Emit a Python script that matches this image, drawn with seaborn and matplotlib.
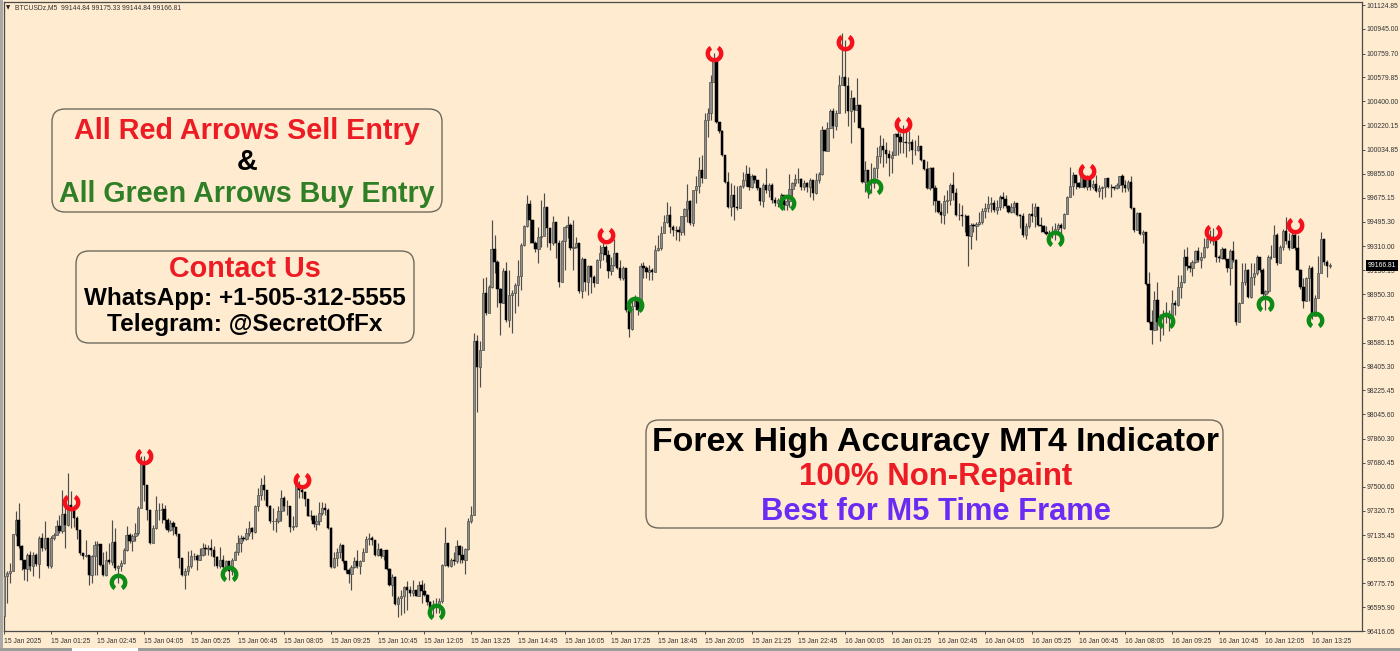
import numpy as np
import pandas as pd
import matplotlib
matplotlib.use("Agg")
import matplotlib.pyplot as plt
from matplotlib.patches import FancyBboxPatch, Rectangle
from matplotlib.path import Path
import seaborn as sns

BG = "#FEEBD0"
RED = "#ED1C24"
GREEN = "#2F7F26"
PURPLE = "#6A2CF5"

first_open = 96526
closes = [
    96827,96852,96865,97145,97253,97053,96947,96882,96990,96907,
    96990,96922,97115,97040,97115,96902,97115,97140,97208,97165,
    97298,97216,97366,97341,97266,97178,97003,96978,96990,96840,
    96983,97065,97073,96915,96840,96947,96935,97083,96890,96907,
    96927,97028,97140,97095,97133,97153,97341,97685,97517,97329,
    97078,97191,97323,97323,97333,97253,97178,97228,97198,97145,
    96965,96840,96865,96907,96978,96983,96953,96990,97040,97033,
    97040,97028,96973,96902,96953,96897,96940,96865,96953,97008,
    97078,97115,97107,97152,97190,97157,97353,97440,97516,97478,
    97358,97240,97240,97240,97315,97415,97353,97353,97197,97207,
    97516,97473,97460,97408,97283,97278,97222,97240,97303,97340,
    97328,97190,96897,96964,97014,97064,96939,96876,96846,96897,
    96939,96902,96939,97014,97107,97115,97097,96989,97032,96982,
    97027,96882,96764,96826,96621,96663,96676,96746,96726,96701,
    96726,96681,96764,96714,96688,96631,96588,96601,96613,96638,
    96914,97077,96902,96947,96939,97057,96989,96952,97032,97240,
    97290,98594,98405,98531,98957,98807,99007,99288,99195,98987,
    98882,99127,98756,98944,98957,99020,99087,99320,99463,99629,
    99504,99338,99288,99378,99388,99609,99446,99333,99489,99333,
    99045,99346,99453,99471,99295,99308,99333,98970,99213,99045,
    99163,99082,99032,99203,99263,99308,99245,99127,99170,99263,
    99145,99070,99145,98832,98686,98857,98895,98832,99158,99145,
    99120,99133,99120,99283,99296,99409,99496,99546,99454,99434,
    99434,99421,99534,99589,99654,99484,99730,99765,99885,99822,
    100261,100316,100549,100700,100248,100178,99998,99797,99609,99697,
    99609,99596,99760,99810,99855,99755,99835,99810,99747,99647,
    99772,99735,99772,99659,99634,99659,99697,99622,99647,99739,
    99789,99815,99815,99755,99785,99755,99805,99709,99805,99855,
    100181,100030,100198,100324,100216,100316,100524,100582,100517,100331,
    100424,100336,100374,100198,99797,99885,99797,99785,99897,99990,
    100065,100035,100005,99973,99998,100155,100130,100098,100098,100085,
    100093,100035,100035,100065,99960,99890,99747,99897,99747,99647,
    99571,99546,99647,99659,99772,99709,99546,99546,99534,99539,
    99388,99471,99459,99479,99489,99579,99596,99629,99634,99584,
    99609,99679,99664,99614,99571,99609,99639,99546,99539,99396,
    99464,99554,99539,99609,99471,99459,99421,99403,99413,99403,
    99438,99471,99446,99554,99684,99764,99847,99785,99759,99835,
    99754,99822,99759,99779,99729,99747,99754,99822,99754,99759,
    99747,99772,99835,99772,99747,99797,99596,99429,99564,99403,
    99421,99027,98744,98681,98907,98744,98787,98794,98794,98769,
    98887,98870,99007,99045,99233,99158,99145,99195,99278,99208,
    99228,99303,99363,99378,99346,99233,99220,99288,99213,99145,
    99271,99208,98744,98887,99045,99133,98927,99082,99108,99233,
    99128,98952,98970,99233,99228,99396,99183,99308,99428,99346,
    99295,99396,99295,99133,99002,98895,99070,99145,98782,98920,
    99112,99363,99195,99158,99166,
]
highs = [
    96865,96865,96927,97145,97316,97379,97065,96953,97003,97015,
    97008,97003,97128,97153,97241,97053,97128,97153,97253,97291,
    97479,97379,97604,97466,97366,97278,97115,97003,97103,96990,
    96990,97090,97090,97073,97008,97015,97078,97253,97191,96915,
    96953,97040,97203,97153,97148,97228,97354,97730,97730,97517,
    97329,97216,97429,97379,97379,97366,97266,97253,97241,97198,
    97145,96965,96890,97015,97023,97003,96995,97040,97078,97073,
    97065,97108,97053,96978,97048,96990,96953,96940,96965,97015,
    97140,97140,97132,97190,97247,97202,97365,97490,97566,97591,
    97478,97365,97340,97265,97353,97473,97428,97403,97353,97278,
    97528,97548,97516,97466,97408,97328,97290,97290,97390,97390,
    97378,97340,97197,97014,97039,97077,97064,96939,96889,96914,
    96972,97027,96951,97039,97127,97152,97132,97102,97077,97039,
    97027,97027,96889,96846,96831,96676,96726,96751,96789,96751,
    96801,96726,96789,96796,96776,96696,96638,96651,96663,96663,
    96922,97202,97077,96964,97014,97097,97064,97052,97039,97265,
    97353,98656,98644,98594,99070,99082,99020,99504,99396,99208,
    98995,99145,99188,99133,98982,99032,99203,99333,99471,99697,
    99659,99508,99346,99458,99659,99709,99609,99446,99534,99489,
    99358,99358,99463,99534,99483,99508,99383,99333,99233,99213,
    99170,99163,99095,99213,99320,99371,99320,99283,99233,99363,
    99263,99208,99158,99077,98857,98920,98945,98907,99183,99195,
    99158,99170,99145,99320,99396,99459,99546,99641,99614,99471,
    99459,99459,99539,99597,99780,99659,99735,99835,99985,99998,
    100311,100349,100599,100762,100700,100248,100186,99985,99872,99785,
    99772,99764,99772,99872,99922,99910,99855,99847,99810,99747,
    99785,99897,99785,99785,99684,99672,99709,99697,99684,99855,
    99797,99855,99897,99822,99810,99797,99822,99805,99860,99872,
    100216,100186,100248,100341,100349,100336,100599,100918,100862,100587,
    100487,100436,100574,100374,100198,99948,99885,99935,99910,100060,
    100148,100123,100098,100035,100023,100160,100223,100160,100223,100198,
    100180,100115,100110,100148,100065,99960,99948,99910,99910,99772,
    99647,99634,99697,99734,99785,99872,99747,99634,99622,99554,
    99546,99484,99484,99496,99571,99596,99639,99689,99679,99659,
    99659,99697,99722,99697,99622,99634,99647,99639,99554,99559,
    99484,99559,99634,99634,99609,99529,99471,99459,99433,99459,
    99484,99484,99484,99559,99689,99910,99872,99847,99797,99847,
    99835,99847,99822,99809,99847,99772,99764,99822,99822,99779,
    99759,99785,99840,99855,99810,99810,99840,99596,99571,99564,
    99434,99421,99113,98832,98970,99045,98802,98832,98894,98832,
    98982,98907,99095,99095,99288,99303,99195,99208,99283,99303,
    99270,99371,99383,99429,99446,99346,99245,99303,99296,99213,
    99288,99346,99213,98894,99183,99183,99138,99183,99183,99245,
    99233,99145,98982,99245,99320,99471,99408,99320,99438,99529,
    99408,99421,99421,99396,99137,99070,99077,99170,99163,98945,
    99238,99421,99363,99208,99183,
]
lows = [
    96514,96627,96777,96865,97128,97040,96872,96802,96790,96865,
    96827,96907,96815,97015,97028,96890,96890,97103,97140,97153,
    97153,97040,97203,97191,97198,97108,96990,96957,96973,96765,
    96777,96840,96840,96902,96827,96827,96922,96915,96877,96777,
    96865,96922,97015,97078,97015,97090,97140,97404,97391,97253,
    97073,97078,97183,97253,97228,97191,97158,97165,97140,97133,
    96890,96827,96732,96840,96890,96948,96877,96948,96978,96990,
    96990,96978,96902,96890,96890,96877,96865,96802,96840,96953,
    96990,97014,97090,97097,97132,97107,97152,97315,97403,97403,
    97348,97232,97177,97157,97227,97240,97315,97290,97157,97177,
    97197,97415,97415,97353,97278,97253,97202,97177,97215,97290,
    97290,97182,96889,96889,96902,96964,96927,96856,96776,96726,
    96889,96889,96846,96939,97014,97064,97064,96977,96977,96964,
    96952,96876,96756,96681,96613,96525,96538,96550,96576,96681,
    96676,96676,96676,96626,96676,96613,96525,96525,96550,96550,
    96626,96902,96897,96897,96914,96927,96927,96927,96846,97027,
    97232,97290,98067,98255,98531,98794,98807,98995,99107,98852,
    98644,98882,98744,98706,98656,98807,98857,98982,99313,99458,
    99333,99333,99270,99183,99308,99508,99308,99283,99320,99220,
    99007,99045,99133,99371,99283,99133,99295,98957,98920,98970,
    98945,98957,99002,99032,99145,99208,99195,99070,99095,99158,
    99138,99057,99057,98819,98631,98681,98857,98794,98820,99070,
    99070,99058,99058,99120,99271,99283,99409,99484,99409,99384,
    99358,99346,99396,99396,99496,99471,99459,99634,99714,99785,
    99935,100135,100261,100549,100236,100160,99990,99785,99596,99534,
    99509,99584,99596,99747,99760,99735,99747,99785,99735,99622,
    99609,99710,99684,99639,99614,99604,99634,99584,99584,99609,
    99672,99760,99785,99735,99735,99722,99684,99659,99704,99785,
    99847,100023,100023,100198,100123,100186,100316,100524,100316,100211,
    100090,100248,100336,100190,99785,99722,99672,99709,99747,99822,
    99935,99910,99935,99835,99860,100010,99998,100010,100010,99985,
    100023,99930,99998,100023,99948,99885,99739,99734,99622,99571,
    99564,99484,99479,99559,99622,99659,99539,99509,99459,99421,
    99158,99288,99421,99358,99471,99479,99521,99571,99571,99571,
    99554,99584,99596,99596,99559,99564,99559,99539,99446,99383,
    99363,99446,99496,99454,99464,99421,99408,99396,99371,99371,
    99358,99396,99383,99438,99554,99679,99697,99739,99747,99754,
    99747,99734,99734,99739,99722,99679,99664,99684,99747,99679,
    99734,99739,99747,99722,99722,99729,99589,99421,99429,99396,
    99333,99020,98732,98576,98681,98681,98594,98644,98732,98669,
    98762,98794,98862,98920,99037,99133,99120,99088,99183,99195,
    99145,99220,99296,99333,99321,99195,99195,99213,99203,99113,
    99020,99188,98719,98744,98882,99020,98920,98920,99020,99095,
    99120,98920,98832,98957,99213,99228,99170,99183,99283,99328,
    99283,99295,99283,99128,98987,98844,98895,98895,98762,98819,
    99107,99107,99170,99082,99145,
]

sell_bars = [23, 48, 102, 206, 243, 288, 308, 371, 414, 442]
sell_prices = [97388, 97734, 97553, 99396, 100764, 100847, 100230, 99877, 99418, 99471]
buy_bars = [39, 77, 148, 216, 268, 298, 360, 398, 432, 449]
buy_prices = [96786, 96846, 96561, 98869, 99636, 99757, 99366, 98749, 98877, 98757]

price_ticks = [
    101124.85, 100945.00, 100759.70, 100579.85, 100400.00, 100220.15, 100034.85,
    99855.00, 99675.15, 99495.30, 99310.00, 99130.15, 98950.30, 98770.45, 98585.15,
    98405.30, 98225.45, 98045.60, 97860.30, 97680.45, 97500.60, 97320.75, 97135.45,
    96955.60, 96775.75, 96595.90, 96416.05,
]
time_labels = [
    "15 Jan 2025", "15 Jan 01:25", "15 Jan 02:45", "15 Jan 04:05", "15 Jan 05:25",
    "15 Jan 06:45", "15 Jan 08:05", "15 Jan 09:25", "15 Jan 10:45", "15 Jan 12:05",
    "15 Jan 13:25", "15 Jan 14:45", "15 Jan 16:05", "15 Jan 17:25", "15 Jan 18:45",
    "15 Jan 20:05", "15 Jan 21:25", "15 Jan 22:45", "16 Jan 00:05", "16 Jan 01:25",
    "16 Jan 02:45", "16 Jan 04:05", "16 Jan 05:25", "16 Jan 06:45", "16 Jan 08:05",
    "16 Jan 09:25", "16 Jan 10:45", "16 Jan 12:05", "16 Jan 13:25",
]
last_price = 99166.81


def ring_marker(start, end):
    # horseshoe with the gap left open between end and start
    a = np.radians(np.linspace(start, end, 40))
    outer = np.c_[np.cos(a), np.sin(a)]
    inner = 0.5 * outer[::-1]
    return Path(np.r_[outer, inner, outer[:1]], closed=True)


sns.set_theme(style="white", rc={"axes.facecolor": BG, "figure.facecolor": BG})
plt.rcParams["font.family"] = ["Liberation Sans", "DejaVu Sans"]

df = pd.DataFrame({"close": closes, "high": highs, "low": lows})
df["open"] = df["close"].shift(1).fillna(first_open)
df["bar"] = df.index
up = df[df["close"] >= df["open"]]
down = df[df["close"] < df["open"]]

fig = plt.figure(figsize=(14, 6.51), dpi=100)
ax = fig.add_axes([3.5 / 1400, 1 - 631 / 651, (1362 - 3.5) / 1400, (631 - 1.5) / 651])

ax.vlines(df["bar"], df["low"], df["high"], color="#4d4d4b", linewidth=0.85, zorder=2)
ax.bar(up["bar"], up["close"] - up["open"], bottom=up["open"], width=0.8,
       color="#8f8e8a", edgecolor="#4f4f4a", linewidth=0.5, zorder=3)
ax.bar(down["bar"], down["open"] - down["close"], bottom=down["close"], width=0.8,
       color="black", edgecolor="black", linewidth=0.35, zorder=3)

sns.scatterplot(x=sell_bars, y=sell_prices, marker=ring_marker(122, 418), s=165,
                color="#F5111B", linewidth=0, ax=ax, zorder=5, legend=False)
sns.scatterplot(x=buy_bars, y=buy_prices, marker=ring_marker(-58, 238), s=165,
                color="#0E8A16", linewidth=0, ax=ax, zorder=5, legend=False)

ax.set_xlim(-0.17, 465.07)
ax.set_ylim(96416.05, 101151.2)
ax.yaxis.tick_right()
ax.set_yticks(price_ticks)
ax.set_yticklabels([f"{p:.2f}" for p in price_ticks])
ax.set_xticks(range(0, 16 * len(time_labels), 16))
ax.set_xticklabels(time_labels, ha="left")
ax.tick_params(axis="y", length=2, width=0.6, pad=1, labelsize=4.9,
               color="#333333", labelcolor="#333333", right=True)
ax.tick_params(axis="x", length=2.5, width=0.6, pad=2.5, labelsize=4.9,
               color="#333333", labelcolor="#333333", bottom=True)
for side in ax.spines.values():
    side.set_color("#4a4a46")
    side.set_linewidth(0.9)

ax.text(467.0, last_price, f"{last_price:.2f}", color="white", fontsize=4.9,
        va="center", ha="left", zorder=8, clip_on=False,
        bbox=dict(boxstyle="square,pad=0.3", fc="black", ec="black", lw=0))

# overlay in image pixels for the text panels and window chrome
ov = fig.add_axes([0, 0, 1, 1], facecolor="none")
ov.set_xlim(0, 1400)
ov.set_ylim(651, 0)
ov.axis("off")


def panel(x0, y0, x1, y1):
    ov.add_patch(FancyBboxPatch((x0 + 13, y0 + 13), x1 - x0 - 26, y1 - y0 - 26,
                                boxstyle="round,pad=13,rounding_size=13",
                                fc="none", ec="#6f6a5c", lw=1.0))


def line(x, y, s, color, size):
    ov.text(x, y, s, color=color, fontsize=size, fontweight="bold",
            ha="center", va="center")


panel(52, 109, 442, 212)
line(246.5, 131, "All Red Arrows Sell Entry", RED, 20.7)
line(247, 162, "&", "black", 20.7)
line(247, 194, "All Green Arrows Buy Entry", GREEN, 20.65)

panel(76, 251, 414, 343)
line(244.5, 269, "Contact Us", RED, 20.7)
line(245, 298, "WhatsApp: +1-505-312-5555", "black", 17.5)
line(245, 324, "Telegram: @SecretOfFx", "black", 17.6)

panel(646, 420, 1223, 528)
line(935.5, 443, "Forex High Accuracy MT4 Indicator", "black", 24.4)
line(935.5, 477.5, "100% Non-Repaint", RED, 22.4)
line(936, 511.5, "Best for M5 Time Frame", PURPLE, 22.25)

ov.text(8, 7.5, "\u25bc", fontsize=4, family="DejaVu Sans", color="#222222", ha="center", va="center")
ov.text(15, 7.5, "BTCUSDz,M5  99144.84 99175.33 99144.84 99166.81", fontsize=4.9,
        color="#333333", ha="left", va="center")

ov.add_patch(Rectangle((0, 0), 2.5, 651, fc="#a9a9a6", ec="none"))
ov.add_patch(Rectangle((0, 648), 1400, 3, fc="#9c9c9a", ec="none"))
ov.add_patch(Rectangle((72, 648), 66, 3, fc="white", ec="none"))

fig.savefig("out.png", dpi=100, facecolor=BG)
